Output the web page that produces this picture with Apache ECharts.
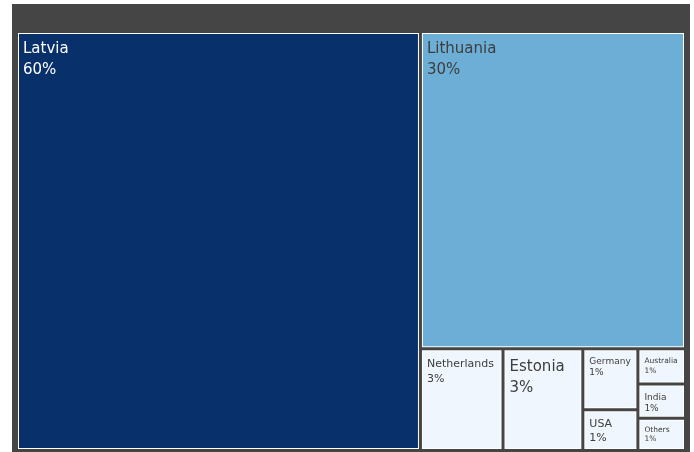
<!DOCTYPE html>
<html>
<head>
<meta charset="utf-8">
<script src="https://cdn.jsdelivr.net/npm/echarts@6/dist/echarts.min.js"></script>
<style>
html,body{margin:0;padding:0;background:#fff;}
#chart{width:694px;height:452px;}
</style>
</head>
<body>
<div id="chart"></div>
<script>
// Data
var categories = ['Latvia', 'Lithuania', 'Netherlands', 'Estonia', 'Germany', 'USA', 'Australia', 'India', 'Others'];
var values = [60.4, 30.0, 3.0, 2.9, 1.2, 0.8, 0.6, 0.58, 0.55];
var pctLabels = ['60%', '30%', '3%', '3%', '1%', '1%', '1%', '1%', '1%'];

// Styles
var tileColors = ['#08306b', '#6caed6', '#eff6fd', '#eff6fd', '#eff6fd', '#eff6fd', '#eff6fd', '#eff6fd', '#eff6fd'];
var textColors = ['#ffffff', '#3d3d3d', '#3d3d3d', '#3d3d3d', '#3d3d3d', '#3d3d3d', '#3d3d3d', '#3d3d3d', '#3d3d3d'];
var fontSizes = [15, 15, 11, 15, 9, 11, 7.5, 9, 7.5];
var lineHeights = [21, 21, 15, 21, 11, 14, 10, 11.5, 9];

var data = categories.map(function (c, i) {
  return {
    name: c,
    value: values[i],
    itemStyle: { color: tileColors[i] },
    label: {
      color: textColors[i],
      fontSize: fontSizes[i],
      lineHeight: lineHeights[i],
      formatter: c + '\n' + pctLabels[i]
    }
  };
});

var chart = echarts.init(document.getElementById('chart'), null, { renderer: 'canvas' });
chart.setOption({
  animation: false,
  backgroundColor: '#ffffff',
  textStyle: { fontFamily: 'DejaVu Sans' },
  graphic: [{
    type: 'rect', z: -10, silent: true,
    shape: { x: 12, y: 4, width: 678, height: 460 },
    style: { fill: '#454545' }
  }],
  series: [{
    type: 'treemap',
    left: 18, top: 33, width: 666, height: 416,
    roam: false,
    nodeClick: false,
    squareRatio: 1,
    breadcrumb: { show: false },
    data: data,
    label: {
      show: true,
      position: 'insideTopLeft',
      padding: [5, 4, 0, 4],
      overflow: 'none',
      lineOverflow: 'none',
      fontFamily: 'DejaVu Sans'
    },
    levels: [
      { itemStyle: { borderWidth: 0, gapWidth: 3, borderColor: '#454545', color: '#454545' } },
      { itemStyle: { borderWidth: 1, borderColor: '#ffffff', gapWidth: 0 } }
    ]
  }]
});
</script>
</body>
</html>
